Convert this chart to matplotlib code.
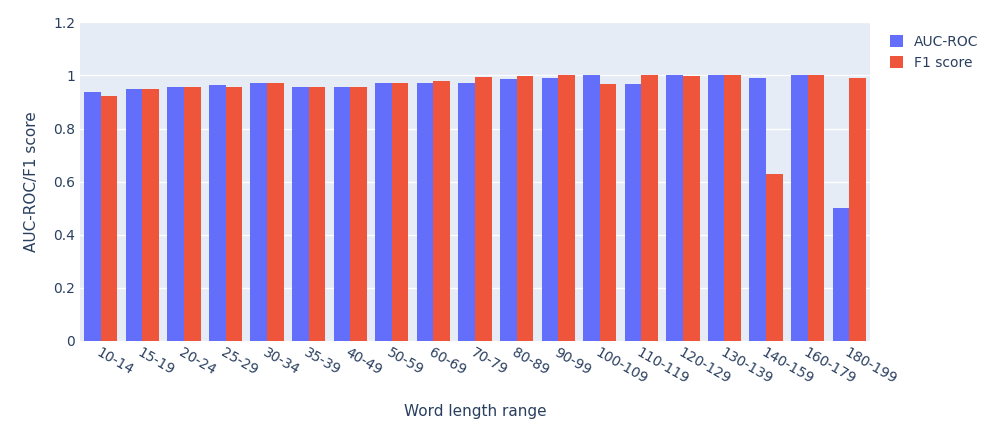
import matplotlib
matplotlib.use("Agg")
import matplotlib.pyplot as plt
import numpy as np

categories = ["10-14","15-19","20-24","25-29","30-34","35-39","40-49","50-59","60-69","70-79",
              "80-89","90-99","100-109","110-119","120-129","130-139","140-159","160-179","180-199"]
auc = [0.936,0.95,0.958,0.965,0.97,0.955,0.958,0.97,0.973,0.973,0.985,0.992,1.0,0.967,1.0,1.0,0.992,1.0,0.5]
f1 = [0.921,0.95,0.955,0.958,0.973,0.955,0.958,0.973,0.98,0.995,0.998,1.0,0.967,1.0,0.997,1.0,0.63,1.0,0.99]

fig = plt.figure(figsize=(10, 4.22), dpi=100)
ax = fig.add_axes([0.08, 0.192, 0.79, 0.755])
ax.set_facecolor("#E5ECF6")
x = np.arange(len(categories))
w = 0.4
ax.bar(x - w/2, auc, w, color="#636EFA", label="AUC-ROC", zorder=3)
ax.bar(x + w/2, f1, w, color="#EF553B", label="F1 score", zorder=3)
ax.set_xlim(-0.5, len(categories) - 0.5)
ax.set_ylim(0, 1.2)
ax.set_yticks([0, 0.2, 0.4, 0.6, 0.8, 1, 1.2])
ax.set_yticklabels(["0", "0.2", "0.4", "0.6", "0.8", "1", "1.2"])
ax.grid(axis="y", color="white", linewidth=1, zorder=0)
for s in ax.spines.values():
    s.set_visible(False)
ax.tick_params(length=0, colors="#2A3F5F", labelsize=10)
ax.set_xticks(x)
ax.set_xticklabels(categories, rotation=-30, ha="left", rotation_mode="anchor")
ax.set_xlabel("Word length range", color="#2A3F5F", fontsize=11, labelpad=12)
ax.set_ylabel("AUC-ROC/F1 score", color="#2A3F5F", fontsize=11, labelpad=10)
ax.legend(loc="upper left", bbox_to_anchor=(1.01, 1.0), frameon=False, fontsize=10,
          labelcolor="#2A3F5F", handlelength=0.9, handleheight=0.9)
fig.savefig("out.png")
